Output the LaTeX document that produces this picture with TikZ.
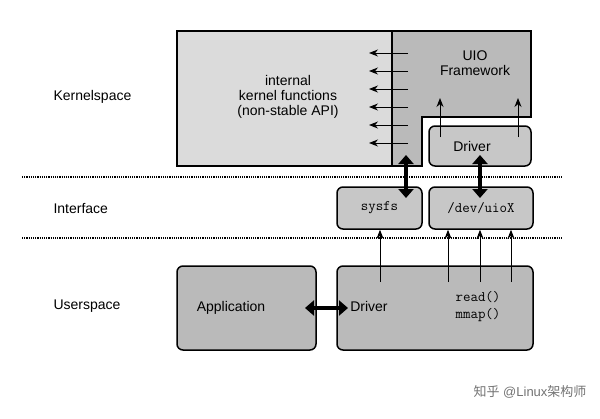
\documentclass[tikz,border=0pt]{standalone}
\usepackage{fontspec}
\setmainfont{Liberation Sans}
\newfontfamily\cjk{Noto Sans CJK SC}
\usetikzlibrary{arrows.meta}
\begin{document}
\begin{tikzpicture}[x=1pt,y=-1pt,
  light/.style={draw=black,line width=1.5pt,fill=black!14},
  dark/.style={draw=black,line width=1.5pt,fill=black!27},
  rbox/.style={draw=black,line width=1.5pt,fill=black!22,rounded corners=6pt},
  dots/.style={densely dotted,line width=1.2pt},
  thin/.style={-{Stealth[length=9pt,width=7pt]},line width=1pt},
  thick/.style={{Triangle[length=9pt,width=15pt]}-{Triangle[length=9pt,width=15pt]},line width=4pt,shorten <=0pt,shorten >=0pt},
  lab/.style={font=\fontsize{14}{15}\selectfont},
  tt/.style={font=\ttfamily\fontsize{14.5}{17}\selectfont}]
\useasboundingbox (0,0) rectangle (600,418);
\fill[white] (0,0) rectangle (600,418);
\draw[light] (177,31) rectangle (392,166);
\draw[dark] (392,31) -- (531,31) -- (531,117) -- (422,117) -- (422,166) -- (392,166) -- cycle;
\node[lab,align=center] (ikf) at (288,97) {internal\\kernel functions\\(non-stable API)};
\node[lab,align=center] (uio) at (475,63) {UIO\\Framework};
\foreach \y in {53,71,89,107,125,143} {
  \coordinate (s\y) at (408,\y); \coordinate (e\y) at (369,\y);
  \draw[thin] (s\y) -- (e\y);}
\node[rbox,minimum width=102pt,minimum height=40pt] (kdrv) at (480,146) {};
\node[lab] at (472,146) {Driver};
\coordinate (kb1) at (440,137); \coordinate (kb2) at (518,137);
\draw[thin] (kb1) -- (440,98);
\draw[thin] (kb2) -- (518,98);
\draw[dots] (22,177) -- (563,177);
\draw[dots] (22,238) -- (563,238);
\node[rbox,minimum width=85pt,minimum height=42pt] (sysfs) at (379.5,208) {};
\node[tt] at (379.5,208) {sysfs};
\node[rbox,minimum width=104pt,minimum height=42pt] (uiox) at (481,208) {};
\node[tt] at (481,208) {/dev/uioX};
\coordinate (fw) at (406,155);
\coordinate (sf) at (406,198);
\draw[thick] (fw) -- (sf);
\coordinate (kd) at (480,155);
\coordinate (ux) at (480,198);
\draw[thick] (kd) -- (ux);
\node[dark,rounded corners=6pt,minimum width=139pt,minimum height=84pt] (app) at (246.5,308) {};
\node[lab] at (231,308) {Application};
\node[dark,rounded corners=6pt,minimum width=196pt,minimum height=84pt] (udrv) at (435,308) {};
\node[lab] at (369,306) {Driver};
\node[tt,align=left] at (478,307) {read()\\mmap()};
\coordinate (ap) at (305,308);
\coordinate (dr) at (348,308);
\draw[thick] (ap) -- (dr);
\draw[thin] (380,282) -- (sysfs.south -| 380,0);
\draw[thin] (448,282) -- (uiox.south -| 448,0);
\draw[thin] (480,282) -- (uiox.south -| 480,0);
\draw[thin] (511,282) -- (uiox.south -| 511,0);
\node[lab,anchor=west] (ks) at (50,97) {Kernelspace};
\node[lab,anchor=west] (if) at (50,208) {Interface};
\node[lab,anchor=west] (us) at (50,306) {Userspace};
\node[anchor=east,text=black!55,font=\fontsize{13}{15}\selectfont] (wm) at (590,392) {{\cjk 知乎} @Linux{\cjk 架构师}};
\end{tikzpicture}
\end{document}
